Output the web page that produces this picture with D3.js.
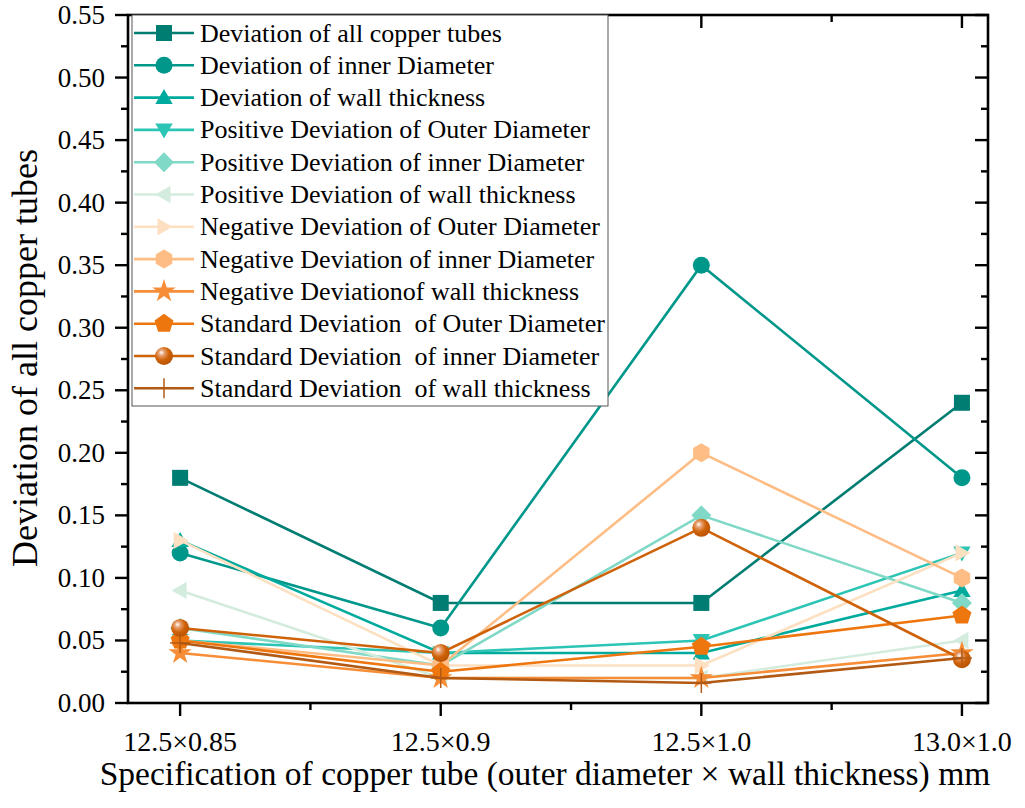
<!DOCTYPE html>
<html>
<head>
<meta charset="utf-8">
<script src="https://cdn.jsdelivr.net/npm/d3@7"></script>
<style>
  body { margin: 0; background: #fff; }
  svg { display: block; }
</style>
</head>
<body>
<svg id="chart" width="1025" height="808"></svg>
<script>
// ---- data ----
const categories = ["12.5×0.85", "12.5×0.9", "12.5×1.0", "13.0×1.0"];
const yTicks = [0, 0.05, 0.10, 0.15, 0.20, 0.25, 0.30, 0.35, 0.40, 0.45, 0.50, 0.55];

const seriesNames = [
  "Deviation of all copper tubes",
  "Deviation of inner Diameter",
  "Deviation of wall thickness",
  "Positive Deviation of Outer Diameter",
  "Positive Deviation of inner Diameter",
  "Positive Deviation of wall thickness",
  "Negative Deviation of Outer Diameter",
  "Negative Deviation of inner Diameter",
  "Negative Deviationof wall thickness",
  "Standard Deviation  of Outer Diameter",
  "Standard Deviation  of inner Diameter",
  "Standard Deviation  of wall thickness"
];
const seriesValues = [
  [0.18, 0.08, 0.08, 0.24],
  [0.12, 0.06, 0.35, 0.18],
  [0.13, 0.04, 0.04, 0.09],
  [0.05, 0.04, 0.05, 0.12],
  [0.06, 0.03, 0.15, 0.08],
  [0.09, 0.02, 0.02, 0.05],
  [0.13, 0.03, 0.03, 0.12],
  [0.05, 0.03, 0.20, 0.10],
  [0.04, 0.02, 0.02, 0.04],
  [0.05, 0.025, 0.045, 0.07],
  [0.06, 0.04, 0.14, 0.035],
  [0.048, 0.02, 0.016, 0.036]
];
const seriesColors = [
  "#007d72", "#00978b", "#00ab9d", "#2cc4b4", "#80d9c6", "#d3ecdd",
  "#fde0c1", "#fdbd84", "#f78d36", "#ee760f", "#cf6208", "#b25a14"
];
const seriesMarkers = [
  "square", "circle", "triUp", "triDown", "diamond", "triLeft",
  "triRight", "hexagon", "star", "pentagon", "ball", "plus"
];

const FONT = "'Liberation Serif', 'Times New Roman', serif";

// ---- layout ----
const svg = d3.select("#chart");
const L = 128, R = 988, T = 15, B = 703;

const x = d3.scaleLinear().domain([-0.2, 3.1]).range([L, R]);
const y = d3.scaleLinear().domain([0, 0.55]).range([B, T]);

const defs = svg.append("defs");
const grad = defs.append("radialGradient").attr("id", "ballGrad")
  .attr("cx", "0.4").attr("cy", "0.37").attr("r", "0.65").attr("fx", "0.35").attr("fy", "0.3");
grad.append("stop").attr("offset", "0").attr("stop-color", "#ffffff");
grad.append("stop").attr("offset", "0.25").attr("stop-color", "#e8a070");
grad.append("stop").attr("offset", "0.6").attr("stop-color", "#cf6208");
grad.append("stop").attr("offset", "1").attr("stop-color", "#b85304");

function polyPath(n, r, rot) {
  const pts = d3.range(n).map(i => {
    const a = rot + i * 2 * Math.PI / n;
    return [r * Math.cos(a), r * Math.sin(a)];
  });
  return "M" + pts.map(p => p.join(",")).join("L") + "Z";
}

function drawMarker(g, type, color, cx, cy) {
  const m = g.append("g").attr("transform", `translate(${cx},${cy})`);
  switch (type) {
    case "square":
      m.append("rect").attr("x", -8).attr("y", -8).attr("width", 16).attr("height", 16).attr("fill", color); break;
    case "circle":
      m.append("circle").attr("r", 8.5).attr("fill", color); break;
    case "triUp":
      m.append("path").attr("d", polyPath(3, 10, -Math.PI / 2)).attr("transform", "translate(0,1.5)").attr("fill", color); break;
    case "triDown":
      m.append("path").attr("d", polyPath(3, 10, Math.PI / 2)).attr("transform", "translate(0,-1.5)").attr("fill", color); break;
    case "triLeft":
      m.append("path").attr("d", polyPath(3, 10, Math.PI)).attr("transform", "translate(1.5,0)").attr("fill", color); break;
    case "triRight":
      m.append("path").attr("d", polyPath(3, 10, 0)).attr("transform", "translate(-1.5,0)").attr("fill", color); break;
    case "diamond":
      m.append("path").attr("d", polyPath(4, 10, 0)).attr("fill", color); break;
    case "hexagon":
      m.append("path").attr("d", polyPath(6, 9.5, -Math.PI / 2)).attr("fill", color); break;
    case "pentagon":
      m.append("path").attr("d", polyPath(5, 10, -Math.PI / 2)).attr("fill", color); break;
    case "star":
      m.append("path").attr("d", d3.symbol(d3.symbolStar, 170)()).attr("fill", color); break;
    case "ball":
      m.append("circle").attr("r", 9).attr("fill", "url(#ballGrad)"); break;
    case "plus":
      m.append("line").attr("x1", 0).attr("x2", 0).attr("y1", -10).attr("y2", 10)
        .attr("stroke", color).attr("stroke-width", 1.5);
      m.append("line").attr("x1", -10).attr("x2", 10).attr("y1", 0).attr("y2", 0)
        .attr("stroke", color).attr("stroke-width", 1.5);
      break;
  }
}

// ---- series ----
const line = d3.line().x((d, i) => x(i)).y(d => y(d));
const plot = svg.append("g");
seriesValues.forEach((vals, s) => {
  const g = plot.append("g");
  g.append("path").attr("d", line(vals)).attr("fill", "none")
    .attr("stroke", seriesColors[s]).attr("stroke-width", 2.6);
  vals.forEach((v, i) => drawMarker(g, seriesMarkers[s], seriesColors[s], x(i), y(v)));
});

// ---- axes ----
const ax = svg.append("g").attr("stroke", "#000");
const minorY = d3.range(0.025, 0.55, 0.05);
const minorX = [0.5, 1.5, 2.5];
ax.append("rect").attr("x", L).attr("y", T).attr("width", R - L).attr("height", B - T)
  .attr("fill", "none").attr("stroke-width", 2.6);
yTicks.forEach(t => ax.append("line").attr("x1", L - 13).attr("x2", L).attr("y1", y(t)).attr("y2", y(t)).attr("stroke-width", 2.4));
minorY.forEach(t => ax.append("line").attr("x1", L - 7).attr("x2", L).attr("y1", y(t)).attr("y2", y(t)).attr("stroke-width", 2.4));
yTicks.forEach(t => ax.append("line").attr("x1", R - 13).attr("x2", R).attr("y1", y(t)).attr("y2", y(t)).attr("stroke-width", 2.4));
minorY.forEach(t => ax.append("line").attr("x1", R - 7).attr("x2", R).attr("y1", y(t)).attr("y2", y(t)).attr("stroke-width", 2.4));
categories.forEach((c, i) => ax.append("line").attr("x1", x(i)).attr("x2", x(i)).attr("y1", B).attr("y2", B + 13).attr("stroke-width", 2.4));
minorX.forEach(t => ax.append("line").attr("x1", x(t)).attr("x2", x(t)).attr("y1", B).attr("y2", B + 7).attr("stroke-width", 2.4));
categories.forEach((c, i) => ax.append("line").attr("x1", x(i)).attr("x2", x(i)).attr("y1", T).attr("y2", T + 13).attr("stroke-width", 2.4));
minorX.forEach(t => ax.append("line").attr("x1", x(t)).attr("x2", x(t)).attr("y1", T).attr("y2", T + 7).attr("stroke-width", 2.4));

// tick labels
svg.append("g").selectAll("text").data(yTicks).join("text")
  .attr("x", 105).attr("y", d => y(d) + 9)
  .attr("text-anchor", "end").attr("font-family", FONT).attr("font-size", 27)
  .text(d => d.toFixed(2));
svg.append("g").selectAll("text").data(categories).join("text")
  .attr("x", (d, i) => x(i)).attr("y", 751)
  .attr("text-anchor", "middle").attr("font-family", FONT).attr("font-size", 28)
  .text(d => d);

// axis titles
svg.append("text").attr("x", 545).attr("y", 785).attr("text-anchor", "middle")
  .attr("font-family", FONT).attr("font-size", 33.5)
  .text("Specification of copper tube (outer diameter × wall thickness) mm");
svg.append("text").attr("transform", "translate(37,358) rotate(-90)").attr("text-anchor", "middle")
  .attr("font-family", FONT).attr("font-size", 36).text("Deviation of all copper tubes");

// ---- legend ----
const lg = svg.append("g");
lg.append("rect").attr("x", 132).attr("y", T).attr("width", 476).attr("height", 391)
  .attr("fill", "#fff").attr("stroke", "#555").attr("stroke-width", 1);
seriesNames.forEach((name, s) => {
  const yy = 33 + s * 32.3;
  lg.append("line").attr("x1", 134).attr("x2", 194).attr("y1", yy).attr("y2", yy)
    .attr("stroke", seriesColors[s]).attr("stroke-width", 2.6);
  drawMarker(lg, seriesMarkers[s], seriesColors[s], 164, yy);
  lg.append("text").attr("x", 200).attr("y", yy + 8.5).attr("font-family", FONT).attr("font-size", 26)
    .style("white-space", "pre").text(name);
});
</script>
</body>
</html>
